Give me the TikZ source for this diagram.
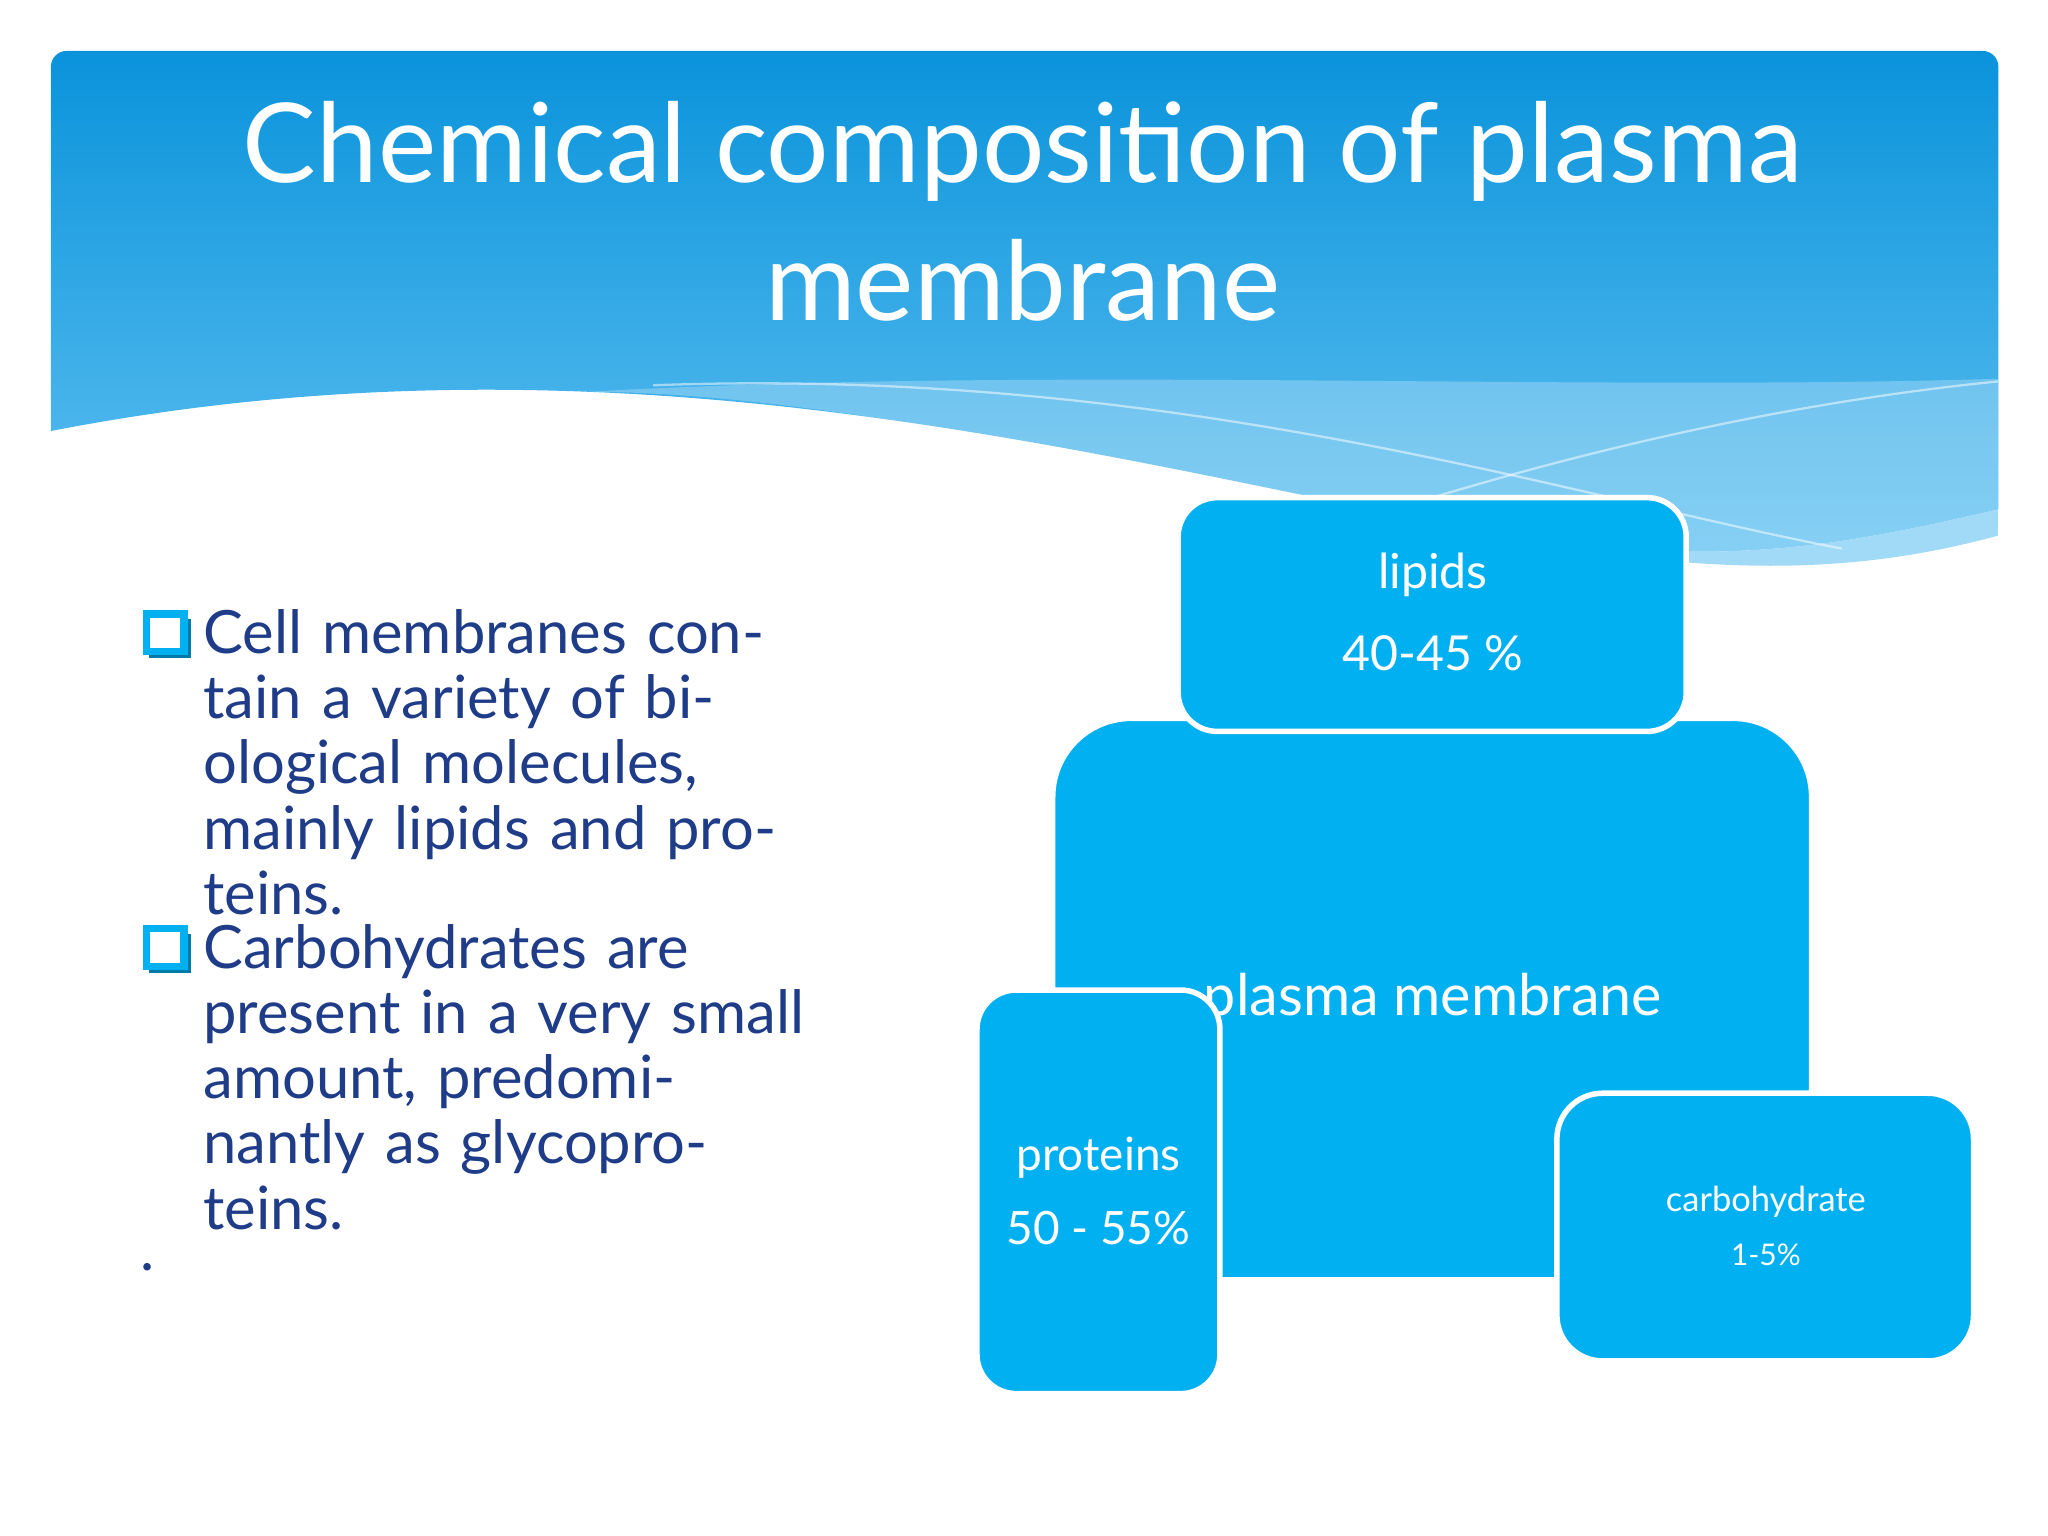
\documentclass[tikz,border=0pt]{standalone}
\usepackage{fontspec}
\setmainfont{Lato}
\usetikzlibrary{positioning}
\definecolor{boxblue}{HTML}{00B0F0}
\definecolor{textblue}{HTML}{1F3C88}
\definecolor{hdtop}{HTML}{0A93DB}
\definecolor{hdbot}{HTML}{62C2F2}
\begin{document}
\begin{tikzpicture}[x=0.01cm,y=-0.01cm,
  part/.style={fill=boxblue,draw=white,line width=1.2pt},
  wt/.style={text=white,align=center},
  bl/.style={text=textblue,anchor=north west,align=left,text width=4.6cm,font=\fontsize{13}{14.2}\selectfont,inner sep=0pt}]
\useasboundingbox (0,0) rectangle (1568,1176);
\fill[white] (0,0) rectangle (1568,1176);
% header
\begin{scope}
\clip[rounded corners=0.12cm] (39,39) rectangle (1530,600);
\shade[top color=hdtop,bottom color=hdbot] (39,39) -- (1530,39) -- (1530,390)
  .. controls (1400,420) and (1300,440) .. (1100,400)
  .. controls (800,340) and (450,250) .. (39,330) -- cycle;
\fill[white,opacity=0.25] (450,300) .. controls (800,280) and (1200,300) .. (1530,290) -- (1530,390)
  .. controls (1400,420) and (1300,440) .. (1100,400) .. controls (800,340) and (600,300) .. (450,300) -- cycle;
\fill[hdbot!60!white] (1100,400) .. controls (1300,440) and (1400,420) .. (1530,390) -- (1530,410)
  .. controls (1420,440) and (1300,445) .. (1100,400) -- cycle;
\draw[white,opacity=0.5,line width=0.5pt] (500,295) .. controls (900,280) and (1200,380) .. (1410,420);
\draw[white,opacity=0.5,line width=0.5pt] (1100,380) .. controls (1300,320) and (1450,300) .. (1530,292);
\end{scope}
\node[wt,font=\fontsize{24}{30}\selectfont] (title) at (783,162) {Chemical composition of plasma\\membrane};
% bullets
\node[bl] (b1) at (155,466) {Cell membranes contain a variety of biological molecules, mainly lipids and proteins.};
\node[bl] (b2) at (155,707) {Carbohydrates are present in a very small amount, predominantly as glycoproteins.};
\foreach \y in {470,711}{
  \fill[boxblue!70!black] (114,\y+4) rectangle (146,\y+34);
  \draw[boxblue,line width=1.6pt,fill=white] (112,\y) rectangle (141,\y+29);
}
\node[text=textblue,font=\fontsize{13}{14}\selectfont] (dot) at (113,970) {.};
% diagram
\draw[part,rounded corners=0.6cm] (806,980) -- (806,550) -- (1387,550) -- (1387,980) -- cycle;
\node[wt,font=\fontsize{12.5}{14}\selectfont] (pm) at (1097,765) {plasma membrane};
\draw[part,rounded corners=0.3cm] (902,381) rectangle (1291,560);
\node[wt,font=\fontsize{10.5}{12}\selectfont] (lip) at (1097,440) {lipids};
\node[wt,font=\fontsize{10.5}{12}\selectfont] (lipv) at (1097,500) {40-45 \%};
\draw[part,rounded corners=0.3cm] (748,758) rectangle (934,1067);
\node[wt,font=\fontsize{10}{12}\selectfont] (pro) at (841,886) {proteins};
\node[wt,font=\fontsize{10}{12}\selectfont] (prov) at (841,940) {50 - 55\%};
\draw[part,rounded corners=0.35cm] (1192,837) rectangle (1511,1042);
\node[wt,font=\fontsize{7.5}{9}\selectfont] (car) at (1352,920) {carbohydrate};
\node[wt,font=\fontsize{6.5}{8}\selectfont] (carv) at (1352,961) {1-5\%};
\end{tikzpicture}
\end{document}
